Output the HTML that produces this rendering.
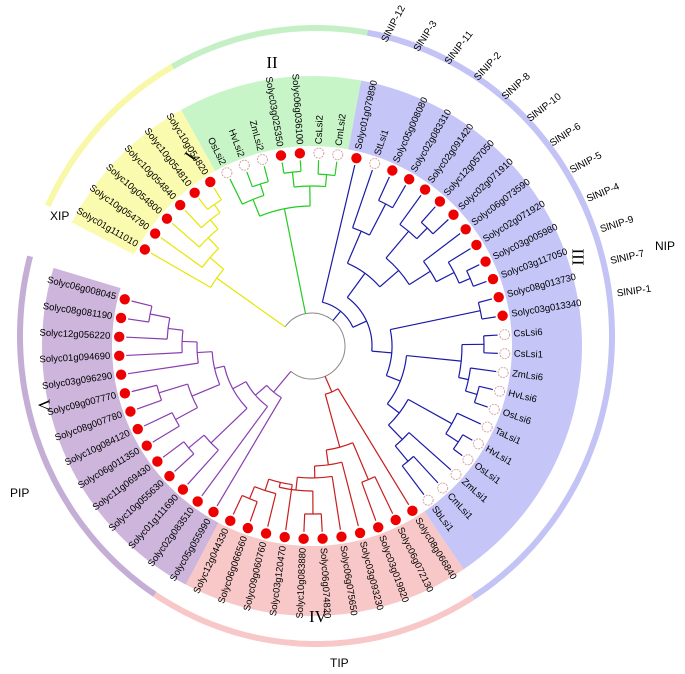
<!DOCTYPE html>
<html><head><meta charset="utf-8"><style>
html,body{margin:0;padding:0;background:#fff}
svg{display:block}
text{font-family:"Liberation Sans",sans-serif}
</style></head><body>
<svg id="chart" width="685" height="674" viewBox="0 0 685 674" xmlns="http://www.w3.org/2000/svg">
<g id="rings"></g>
<g id="sectors"></g>
<g id="branches"></g>
<g id="dots"></g>
<g id="labels"></g>
<g id="annot">
<text x="50" y="220" font-size="12">XIP</text>
<text x="655" y="250" font-size="12">NIP</text>
<text x="10" y="497" font-size="12">PIP</text>
<text x="330" y="667" font-size="12">TIP</text>
<text x="0" y="0" font-size="17" style="font-family:'Liberation Serif',serif" transform="translate(190,156) rotate(-55)" text-anchor="middle" dominant-baseline="central">I</text>
<text x="272" y="68" font-size="17" style="font-family:'Liberation Serif',serif" text-anchor="middle">II</text>
<text x="0" y="0" font-size="17" style="font-family:'Liberation Serif',serif" transform="translate(578,257) rotate(90)" text-anchor="middle" dominant-baseline="central">III</text>
<text x="318" y="622" font-size="17" style="font-family:'Liberation Serif',serif" text-anchor="middle">IV</text>
<text x="0" y="0" font-size="17" style="font-family:'Liberation Serif',serif" transform="translate(44,405) rotate(90)" text-anchor="middle" dominant-baseline="central">V</text>
</g>
</svg>
<script>
const NS='http://www.w3.org/2000/svg';
const cladeNames=['I','II','III','IV','V'];
const cladeColors=['#e6e600','#22cc22','#1a1aa8','#c81e1e','#8a3db0'];
const sectorColors=['#fbfbb0','#c8f5c8','#c5c5f7','#f8c8c8','#cdb5dc'];
const nipLabels=['SlNIP-12','SlNIP-3','SlNIP-11','SlNIP-2','SlNIP-8','SlNIP-10','SlNIP-6','SlNIP-5','SlNIP-4','SlNIP-9','SlNIP-7','SlNIP-1'];
const ringNames=['XIP','NIP-II','NIP-III','TIP','PIP'];
const ringStart=[205,241,280,418,483];
const ringEnd=[241,280,418,483,555];
const ringColors=['#f8f8a8','#c5f0c5','#c3c3f5','#f8c8c8','#c4aed6'];
const cladeI=[117,'Solyc01g111010',[135,'Solyc10g054790',[150,'Solyc10g054800',[162,'Solyc10g054840',[172,'Solyc10g054810','Solyc10g054820']]]]];
const cladeII=[140,[158,'OsLsi2',[170,'HvLsi2','ZmLsi2']],[160,[175,'Solyc03g025350','Solyc06g036100'],[172,'CsLsi2','CmLsi2']]];
const cladeIII=[45,'Solyc01g079890',[60,[90,[125,'StLsi1',[160,'Solyc05g008080','Solyc02g083310']],[115,[150,'Solyc02g091420',[165,'Solyc12g057050','Solyc02g071910']],[140,'Solyc06g073590',[160,'Solyc02g071920',[172,'Solyc03g005980','Solyc03g117050']]]]],[80,[172,'Solyc08g013730','Solyc03g013340'],[95,[150,[172,'CsLsi6','CsLsi1'],[160,'ZmLsi6',[172,'HvLsi6','OsLsi6']]],[110,[160,'TaLsi1',[175,'HvLsi1','OsLsi1']],[130,'ZmLsi1',[150,'CmLsi1','SbLsi1']]]]]]];
const cladeIV=[50,'Solyc08g066840',[105,[145,'Solyc06g072130','Solyc03g019820'],[120,'Solyc03g093230',[132,'Solyc06g075650',[145,[168,'Solyc06g074820','Solyc10g083880'],[140,'Solyc03g120470',[152,'Solyc09g060760',[165,'Solyc06g066560','Solyc12g044330']]]]]]]];
const cladeV=[60,'Solyc05g055990',[75,'Solyc02g083510',[90,[140,'Solyc01g111690',[160,'Solyc10g055630','Solyc11g069430']],[100,[130,[155,'Solyc06g011350','Solyc10g084120'],[160,'Solyc08g007780','Solyc09g007770']],[115,'Solyc03g096290',[130,'Solyc01g094690',[145,'Solyc12g056220',[165,'Solyc08g081190','Solyc06g008045']]]]]]]];
const clades=[cladeI,cladeII,cladeIII,cladeIV,cladeV];
const rootR=33;

const CX=312,CY=346,LEAF_R=186,DOT_R=193,LAB_R=202,SEC_IN=200,SEC_OUT=270;
const START=210,END=554;
const RCX=316,RCY=336,RX=296,RY=308;
function rad(a){return a*Math.PI/180}
function pt(r,a){return [CX+r*Math.cos(rad(a)),CY+r*Math.sin(rad(a))]}
function mk(tag,attrs,parent){const e=document.createElementNS(NS,tag);for(const k in attrs)e.setAttribute(k,attrs[k]);parent.appendChild(e);return e}
function countLeaves(n){return typeof n==='string'?1:n.slice(1).reduce((s,c)=>s+countLeaves(c),0)}
const total=clades.reduce((s,c)=>s+countLeaves(c),0);
const step=(END-START)/(total-1);
let idx=0;const leafList=[];const cladeRange=[];
function layout(n,ci){
  if(typeof n==='string'){const a=START+idx*step;idx++;leafList.push({name:n,a:a,ci:ci});return {a:a,r:LEAF_R,leaf:true}}
  const kids=n.slice(1).map(c=>layout(c,ci));
  const as=kids.map(k=>k.a);
  return {a:(Math.min(...as)+Math.max(...as))/2,r:n[0],kids:kids};
}
const laid=clades.map((c,i)=>{const s=idx;const L=layout(c,i);cladeRange.push([START+s*step,START+(idx-1)*step]);return L});
const gB=document.getElementById('branches');
function arcPath(r,a1,a2){const p1=pt(r,a1),p2=pt(r,a2);const large=(a2-a1)>180?1:0;return `M${p1[0]},${p1[1]} A${r},${r} 0 ${large} 1 ${p2[0]},${p2[1]}`}
function draw(node,color){
  if(node.leaf)return;
  const as=node.kids.map(k=>k.a);
  const p=mk('path',{d:arcPath(node.r,Math.min(...as),Math.max(...as)),fill:'none',stroke:color,'stroke-width':1.2},gB);
  
  
  node.kids.forEach(k=>{
    const a=pt(node.r,k.a),b=pt(k.r,k.a);
    const l=mk('line',{x1:a[0],y1:a[1],x2:b[0],y2:b[1],stroke:color,'stroke-width':1.2},gB);
    
    
    draw(k,color);
  });
}
const rootAs=laid.map(l=>l.a);
const ra=mk('path',{d:arcPath(rootR,Math.min(...rootAs),Math.max(...rootAs)),fill:'none',stroke:'#888','stroke-width':1},gB);


laid.forEach((L,i)=>{
  const a=pt(rootR,L.a),b=pt(L.r,L.a);
  const l=mk('line',{x1:a[0],y1:a[1],x2:b[0],y2:b[1],stroke:cladeColors[i],'stroke-width':1.2},gB);
  
  
  draw(L,cladeColors[i]);
});
const gS=document.getElementById('sectors');
cladeRange.forEach((r,i)=>{
  const a1=r[0]-step/2,a2=r[1]+step/2;
  const p1=pt(SEC_IN,a1),p2=pt(SEC_OUT,a1),p3=pt(SEC_OUT,a2),p4=pt(SEC_IN,a2);
  const lg=(a2-a1)>180?1:0;
  const s=mk('path',{d:`M${p1[0]},${p1[1]} L${p2[0]},${p2[1]} A${SEC_OUT},${SEC_OUT} 0 ${lg} 1 ${p3[0]},${p3[1]} L${p4[0]},${p4[1]} A${SEC_IN},${SEC_IN} 0 ${lg} 0 ${p1[0]},${p1[1]} Z`,fill:sectorColors[i]},gS);
  
  
});
const gR=document.getElementById('rings');
function ept(a,rx,ry){return [RCX+rx*Math.cos(rad(a)),RCY+ry*Math.sin(rad(a))]}
ringStart.forEach((s,i)=>{
  const e=ringEnd[i];let d='';
  for(let a=s;a<=e;a+=1){const p=ept(a,RX,RY);d+=(a===s?'M':'L')+p[0].toFixed(1)+','+p[1].toFixed(1)}
  const r=mk('path',{d:d,fill:'none',stroke:ringColors[i],'stroke-width':6},gR);
  
  
});
nipLabels.forEach((t,i)=>{
  const f=i/(nipLabels.length-1);
  const a=283+f*69;
  const rot=-62+f*54;
  const p=ept(a,RX+8,RY-6);
  const tx=mk('text',{x:0,y:0,'font-size':10,transform:`translate(${p[0]},${p[1]}) rotate(${rot})`,'dominant-baseline':'central'},gR);
  tx.textContent=t;
  
  
});
const gD=document.getElementById('dots'),gL=document.getElementById('labels');
leafList.forEach(l=>{
  const p=pt(DOT_R,l.a);
  const isSol=l.name.startsWith('Solyc');
  const c=mk('circle',isSol?{cx:p[0],cy:p[1],r:5.2,fill:'#ee0000'}:{cx:p[0],cy:p[1],r:5,fill:'#fff',stroke:'#d9a0a0','stroke-width':1,'stroke-dasharray':'2 1'},gD);
  
  
  const q=pt(LAB_R,l.a);
  let na=((l.a%360)+360)%360;
  const flip=na>90&&na<270;
  const t=mk('text',{x:0,y:0,'font-size':9.5,'text-anchor':flip?'end':'start','dominant-baseline':'central',transform:`translate(${q[0]},${q[1]}) rotate(${flip?na-180:na})`},gL);
  t.textContent=l.name;
  
  
});
</script>
</body></html>
